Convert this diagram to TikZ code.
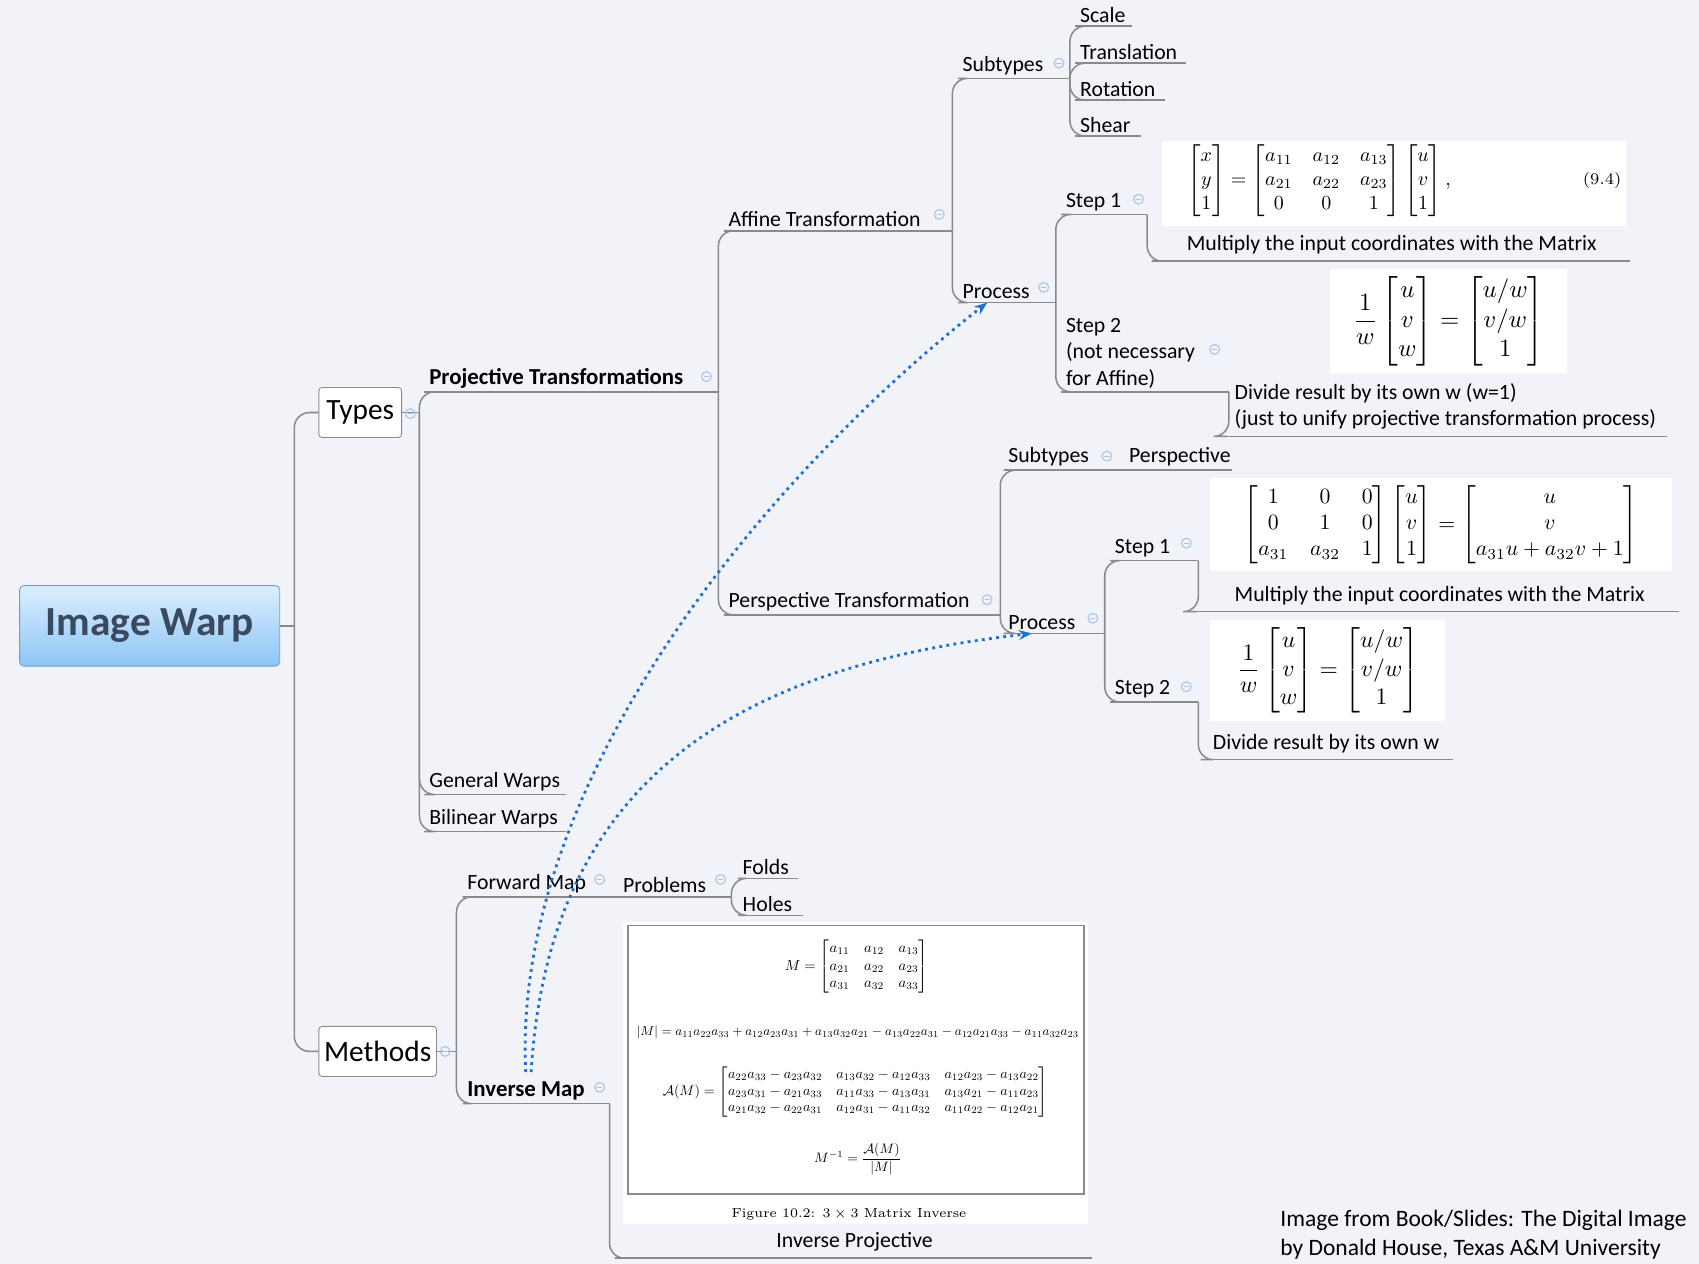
\documentclass[tikz,border=0pt]{standalone}
\usepackage{fontspec}
\usepackage{amsmath}
\setmainfont{Carlito}
\newfontfamily\lmr{Latin Modern Roman}
\usetikzlibrary{arrows.meta,calc}
\definecolor{bg}{HTML}{F2F3F8}
\definecolor{lc}{HTML}{8A8A8A}
\definecolor{arr}{HTML}{1F6FD0}
\definecolor{mk}{HTML}{A9C4E6}
\definecolor{rootb}{HTML}{6A9FD8}
\definecolor{roott}{HTML}{DCEEFF}
\definecolor{rootbt}{HTML}{8EC5F5}
\definecolor{roottx}{HTML}{3A4A5E}
\tikzset{
 ul/.style={lc,line width=0.7pt},
 br/.style={lc,line width=0.7pt,rounded corners=7pt},
 lbl/.style={anchor=south west,inner sep=0pt,font=\fontsize{10}{12}\selectfont,text=black},
 bold/.style={font=\fontsize{10.5}{12}\selectfont\bfseries},
 box/.style={draw=lc,fill=white,rounded corners=1.5pt,font=\fontsize{13.5}{15}\selectfont,inner sep=0pt},
 eqbox/.style={fill=white,inner sep=0pt},
 link/.style={arr,line width=1.3pt,dotted,-{Stealth[length=6pt]}},
 cmark/.style={circle,draw=mk,line width=0.5pt,inner sep=0pt,minimum size=4.5pt,
   path picture={\draw[mk,line width=0.5pt] ([xshift=-1.2pt]path picture bounding box.center)--([xshift=1.2pt]path picture bounding box.center);}}
}
\newcommand\mmtopic[6][]{%
 \coordinate (#2-l) at (#3,#5); \coordinate (#2-r) at (#4,#5);
 \draw[ul] (#2-l)--(#2-r);
 \node[lbl,#1] (#2) at ({#3+4},{#5-3}) {#6};}
\newcommand\mmlink[3]{\draw[ul] (#1) -- ++(#3,0); \draw[br] ($(#1)+(#3,0)$) |- (#2);}
\begin{document}
\begin{tikzpicture}[x=0.5pt,y=-0.5pt]
\fill[bg] (0,0) rectangle (1561,1161);
\useasboundingbox (0,0) rectangle (1561,1161);
% root
\node[draw=rootb,top color=roott,bottom color=rootbt,rounded corners=2pt,minimum width=119.5pt,minimum height=37pt,font=\fontsize{19}{21}\selectfont\bfseries,text=roottx] (root) at (137.5,575) {Image Warp};
\node[box,minimum width=38pt,minimum height=23pt] (types) at (331,379) {Types};
\node[box,minimum width=54pt,minimum height=23pt] (methods) at (347,966) {Methods};
\mmlink{root.east}{types.west}{13}
\mmlink{root.east}{methods.west}{13}
% Types branch
\mmtopic[bold]{proj}{390}{655}{360}{Projective Transformations}
\mmtopic{gen}{390}{520}{730}{General Warps}
\mmtopic{bil}{390}{520}{764}{Bilinear Warps}
\mmlink{types.east}{proj-l}{16}
\mmlink{types.east}{gen-l}{16}
\mmlink{types.east}{bil-l}{16}
\mmtopic{aff}{665}{870}{212}{Affine Transformation}
\mmtopic{persp}{665}{915}{565}{Perspective Transformation}
\mmlink{proj-r}{aff-l}{5}
\mmlink{proj-r}{persp-l}{5}
% affine
\mmtopic{sub}{880}{975}{72}{Subtypes}
\mmtopic{proc}{880}{965}{278}{Process}
\mmlink{aff-r}{sub-l}{5}
\mmlink{aff-r}{proc-l}{5}
\mmtopic{scale}{988}{1040}{24}{Scale}
\mmtopic{trans}{988}{1090}{58}{Translation}
\mmtopic{rot}{988}{1070}{92}{Rotation}
\mmtopic{shear}{988}{1048}{125}{Shear}
\foreach \c in {scale,trans,rot,shear}{\mmlink{sub-r}{\c-l}{8}}
\mmtopic{st1}{975}{1050}{197}{Step 1}
\coordinate (st2-l) at (975,360); \coordinate (st2-r) at (1125,360);
\draw[ul] (st2-l)--(st2-r);
\node[lbl,align=left] (st2) at (979,357) {Step 2\\(not necessary\\for Affine)};
\mmlink{proc-r}{st1-l}{5}
\mmlink{proc-r}{st2-l}{5}
% affine step1 detail
\node[eqbox,minimum width=213pt,minimum height=39pt] (eqa) at (1281,169) {};
\node (eqa1) at (1212,166) {\resizebox*{!}{33pt}{$\begin{bmatrix}x\\y\\1\end{bmatrix}=\begin{bmatrix}a_{11}&a_{12}&a_{13}\\a_{21}&a_{22}&a_{23}\\0&0&1\end{bmatrix}\begin{bmatrix}u\\v\\1\end{bmatrix},$}};
\node[font=\lmr\fontsize{7.5}{8}\selectfont] (eqan) at (1472,166) {(9.4)};
\coordinate (m1-l) at (1058,240); \coordinate (m1-r) at (1498,240);
\draw[ul] (m1-l)--(m1-r);
\node[lbl] (m1) at (1090,234) {Multiply the input coordinates with the Matrix};
\mmlink{st1-r}{m1-l}{4}
% affine step2 detail
\node[eqbox,minimum width=109pt,minimum height=48pt] (eqb) at (1331,295) {\resizebox*{!}{41pt}{$\dfrac{1}{w}\begin{bmatrix}u\\v\\w\end{bmatrix}=\begin{bmatrix}u/w\\v/w\\1\end{bmatrix}$}};
\coordinate (d1-l) at (1128,401); \coordinate (d1-r) at (1532,401);
\draw[ul] (d1-l)--(d1-r);
\node[lbl,align=left] (d1) at (1134,395) {Divide result by its own w (w=1)\\(just to unify projective transformation process)};
\mmlink{st2-r}{d1-l}{4}
% perspective
\mmtopic{sub2}{922}{1025}{432}{Subtypes}
\mmtopic{pp}{1033}{1132}{432}{Perspective}
\draw[ul] (sub2-r)--(pp-l);
\mmtopic{proc2}{922}{1010}{582}{Process}
\mmlink{persp-r}{sub2-l}{4}
\mmlink{persp-r}{proc2-l}{4}
\mmtopic{pst1}{1020}{1098}{515}{Step 1}
\mmtopic{pst2}{1020}{1098}{645}{Step 2}
\mmlink{proc2-r}{pst1-l}{5}
\mmlink{proc2-r}{pst2-l}{5}
\node[eqbox,minimum width=212pt,minimum height=42.5pt] (eqc) at (1324,482) {\resizebox*{!}{36pt}{$\begin{bmatrix}1&0&0\\0&1&0\\a_{31}&a_{32}&1\end{bmatrix}\begin{bmatrix}u\\v\\1\end{bmatrix}=\begin{bmatrix}u\\v\\a_{31}u+a_{32}v+1\end{bmatrix}$}};
\coordinate (m2-l) at (1100,562); \coordinate (m2-r) at (1543,562);
\draw[ul] (m2-l)--(m2-r);
\node[lbl] (m2) at (1134,556) {Multiply the input coordinates with the Matrix};
\mmlink{pst1-r}{m2-l}{3}
\node[eqbox,minimum width=108pt,minimum height=46.5pt] (eqd) at (1220,616) {\resizebox*{!}{39pt}{$\dfrac{1}{w}\begin{bmatrix}u\\v\\w\end{bmatrix}=\begin{bmatrix}u/w\\v/w\\1\end{bmatrix}$}};
\coordinate (d2-l) at (1103,698); \coordinate (d2-r) at (1335,698);
\draw[ul] (d2-l)--(d2-r);
\node[lbl] (d2) at (1114,692) {Divide result by its own w};
\mmlink{pst2-r}{d2-l}{3}
% methods
\mmtopic{fwd}{425}{555}{824}{Forward Map}
\mmtopic[bold]{inv}{425}{557}{1014}{Inverse Map}
\mmlink{methods.east}{fwd-l}{18}
\mmlink{methods.east}{inv-l}{18}
\mmtopic{prob}{568}{668}{824}{Problems}
\draw[ul] (fwd-r)--(prob-l);
\mmtopic{folds}{678}{733}{807}{Folds}
\mmtopic{holes}{678}{738}{841}{Holes}
\mmlink{prob-r}{folds-l}{4}
\mmlink{prob-r}{holes-l}{4}
% inverse figure
\node[eqbox,minimum width=214pt,minimum height=139pt] (fig) at (786,986) {};
\draw[lc,line width=0.6pt] (577,850) rectangle (996,1097);
\node (f1) at (787,888) {\resizebox{66pt}{!}{$M=\begin{bmatrix}a_{11}&a_{12}&a_{13}\\a_{21}&a_{22}&a_{23}\\a_{31}&a_{32}&a_{33}\end{bmatrix}$}};
\node (f2) at (788,948) {\resizebox{203pt}{!}{$|M|=a_{11}a_{22}a_{33}+a_{12}a_{23}a_{31}+a_{13}a_{32}a_{21}-a_{13}a_{22}a_{31}-a_{12}a_{21}a_{33}-a_{11}a_{32}a_{23}$}};
\node (f3) at (786,1003) {\resizebox{177pt}{!}{$\mathcal{A}(M)=\begin{bmatrix}a_{22}a_{33}-a_{23}a_{32}&a_{13}a_{32}-a_{12}a_{33}&a_{12}a_{23}-a_{13}a_{22}\\a_{23}a_{31}-a_{21}a_{33}&a_{11}a_{33}-a_{13}a_{31}&a_{13}a_{21}-a_{11}a_{23}\\a_{21}a_{32}-a_{22}a_{31}&a_{12}a_{31}-a_{11}a_{32}&a_{11}a_{22}-a_{12}a_{21}\end{bmatrix}$}};
\node (f4) at (788,1065) {\resizebox{40pt}{!}{$M^{-1}=\dfrac{\mathcal{A}(M)}{|M|}$}};
\node[font=\lmr\fontsize{6}{7}\selectfont] (f5) at (780,1116) {Figure 10.2: $3\times3$ Matrix Inverse};
\coordinate (ip-l) at (565,1156); \coordinate (ip-r) at (1003,1156);
\draw[ul] (ip-l)--(ip-r);
\node[lbl] (ip) at (713,1150) {Inverse Projective};
\mmlink{inv-r}{ip-l}{3}
% collapse markers
\foreach \p in {(377,380),(649,346),(863,197),(973,58),(959,264),(1046,183),(1116,321),(907,551),(1017,419),(1004,568),(1090,499),(1090,631),(409,966),(551,808),(662,808),(551,999)}{\node[cmark] at \p {};}
% dotted arrows
\coordinate (a0) at (483,985);
\coordinate (a1) at (488,985);
\coordinate (t1) at (907,278);
\coordinate (t2) at (948,582);
\draw[link] (a0) .. controls (470,720) and (700,440) .. (t1);
\draw[link] (a1) .. controls (505,700) and (700,610) .. (t2);
% credit
\node[lbl,align=left,font=\fontsize{10.8}{13}\selectfont] (cr) at (1176,1157) {Image from Book/Slides: The Digital Image\\by Donald House, Texas A\&M University};
\end{tikzpicture}
\end{document}
